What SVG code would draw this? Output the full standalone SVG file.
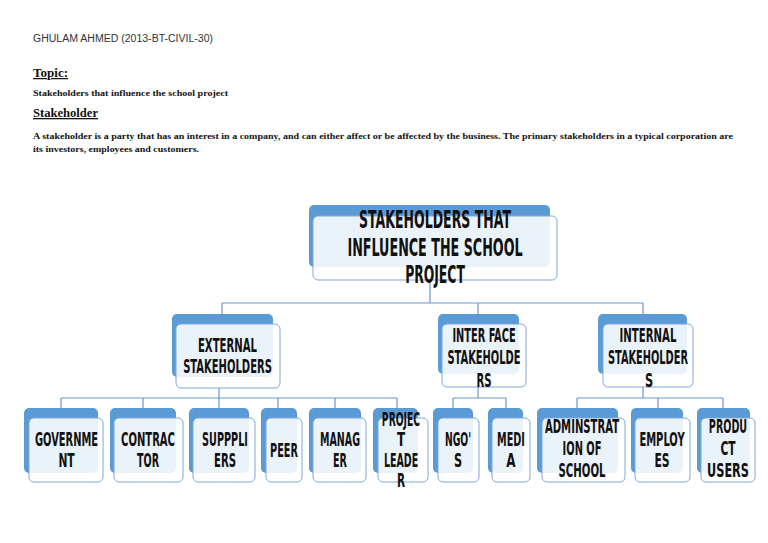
<svg xmlns="http://www.w3.org/2000/svg" width="768" height="543" viewBox="0 0 768 543">
<style>
.back{fill:#5b9bd5}
.front{fill:#ffffff;fill-opacity:0.88;stroke:#7ea8d8;stroke-width:1}
.lbl{font-family:"DejaVu Sans Condensed","DejaVu Sans",sans-serif;font-weight:bold;fill:#111;text-anchor:middle}
.root{font-size:24px}
.mid{font-size:19px}
.leaf{font-size:19px}
.conn{stroke:#6b98cc;fill:none;stroke-width:1.2}
.serif{font-family:"Liberation Serif",serif;font-weight:bold;fill:#111}
</style>
<rect width="768" height="543" fill="#ffffff"/>
<g id="header">
<text x="33" y="42" font-family="'Liberation Sans',sans-serif" font-size="10" fill="#333" textLength="180" lengthAdjust="spacingAndGlyphs">GHULAM AHMED (2013-BT-CIVIL-30)</text>
<text class="serif" x="33" y="77" font-size="12.5" text-decoration="underline" textLength="35" lengthAdjust="spacingAndGlyphs">Topic:</text>
<text class="serif" x="33" y="95.5" font-size="8.5" textLength="195" lengthAdjust="spacingAndGlyphs">Stakeholders that influence the school project</text>
<text class="serif" x="33" y="117" font-size="13" text-decoration="underline" textLength="65" lengthAdjust="spacingAndGlyphs">Stakeholder</text>
<text class="serif" x="33" y="139" font-size="8.5" textLength="700" lengthAdjust="spacingAndGlyphs">A stakeholder is a party that has an interest in a company, and can either affect or be affected by the business.  The primary stakeholders in a typical corporation are</text>
<text class="serif" x="33" y="151.5" font-size="8.5" textLength="166" lengthAdjust="spacingAndGlyphs">its investors, employees and customers.</text>
</g>
<g id="connectors">
<path class="conn" d="M430 280V303 M222 303H643 M222 303V314 M478 303V314 M643 303V314 M219 388V398 M61 398H397 M61 398V408 M143 398V408 M219 398V408 M278 398V408 M335 398V408 M397 398V408 M478 387V398 M453 398H506 M453 398V408 M506 398V408 M643 387V398 M577 398H723 M577 398V408 M658 398V408 M723 398V408"/>
</g>
<g id="root">
<rect class="back" x="309" y="205" width="241" height="62" rx="5"/>
<rect class="front" x="313" y="216" width="244" height="64" rx="5"/>
<text class="lbl root" transform="matrix(0.58 0 0 1 435 0)" x="0" y="228" textLength="262" lengthAdjust="spacingAndGlyphs">STAKEHOLDERS THAT</text>
<text class="lbl root" transform="matrix(0.58 0 0 1 435 0)" x="0" y="256" textLength="302" lengthAdjust="spacingAndGlyphs">INFLUENCE THE SCHOOL</text>
<text class="lbl root" transform="matrix(0.58 0 0 1 435 0)" x="0" y="283" textLength="103" lengthAdjust="spacingAndGlyphs">PROJECT</text>
</g>
<g id="external">
<rect class="back" x="172" y="314" width="101" height="63" rx="5"/>
<rect class="front" x="176" y="324" width="104" height="64" rx="5"/>
<text class="lbl mid" transform="matrix(0.58 0 0 1 227.5 0)" x="0" y="352" textLength="102" lengthAdjust="spacingAndGlyphs">EXTERNAL</text>
<text class="lbl mid" transform="matrix(0.58 0 0 1 227.5 0)" x="0" y="373" textLength="153" lengthAdjust="spacingAndGlyphs">STAKEHOLDERS</text>
</g>
<g id="interface">
<rect class="back" x="438" y="314" width="81" height="60" rx="5"/>
<rect class="front" x="442" y="324" width="84" height="63" rx="5"/>
<text class="lbl mid" transform="matrix(0.58 0 0 1 484 0)" x="0" y="342" textLength="109" lengthAdjust="spacingAndGlyphs">INTER FACE</text>
<text class="lbl mid" transform="matrix(0.58 0 0 1 484 0)" x="0" y="364" textLength="126" lengthAdjust="spacingAndGlyphs">STAKEHOLDE</text>
<text class="lbl mid" transform="matrix(0.58 0 0 1 484 0)" x="0" y="387" textLength="26" lengthAdjust="spacingAndGlyphs">RS</text>
</g>
<g id="internal">
<rect class="back" x="598" y="314" width="89" height="60" rx="5"/>
<rect class="front" x="603" y="324" width="90" height="63" rx="5"/>
<text class="lbl mid" transform="matrix(0.58 0 0 1 648 0)" x="0" y="342" textLength="98" lengthAdjust="spacingAndGlyphs">INTERNAL</text>
<text class="lbl mid" transform="matrix(0.58 0 0 1 648 0)" x="0" y="364" textLength="138" lengthAdjust="spacingAndGlyphs">STAKEHOLDER</text>
<text class="lbl mid" transform="matrix(0.58 0 0 1 649 0)" x="0" y="387" textLength="14" lengthAdjust="spacingAndGlyphs">S</text>
</g>
<g id="government">
<rect class="back" x="24" y="408" width="74" height="65" rx="5"/>
<rect class="front" x="29" y="418" width="74" height="64" rx="5"/>
<text class="lbl leaf" transform="matrix(0.58 0 0 1 66.5 0)" x="0" y="446" textLength="109" lengthAdjust="spacingAndGlyphs">GOVERNME</text>
<text class="lbl leaf" transform="matrix(0.58 0 0 1 66.5 0)" x="0" y="467" textLength="28" lengthAdjust="spacingAndGlyphs">NT</text>
</g>
<g id="contractor">
<rect class="back" x="110" y="408" width="66" height="65" rx="5"/>
<rect class="front" x="114" y="418" width="69" height="64" rx="5"/>
<text class="lbl leaf" transform="matrix(0.58 0 0 1 148 0)" x="0" y="446" textLength="93" lengthAdjust="spacingAndGlyphs">CONTRAC</text>
<text class="lbl leaf" transform="matrix(0.58 0 0 1 148 0)" x="0" y="467" textLength="38" lengthAdjust="spacingAndGlyphs">TOR</text>
</g>
<g id="suppliers">
<rect class="back" x="189" y="408" width="60" height="65" rx="5"/>
<rect class="front" x="193" y="418" width="62" height="64" rx="5"/>
<text class="lbl leaf" transform="matrix(0.58 0 0 1 225 0)" x="0" y="446" textLength="79" lengthAdjust="spacingAndGlyphs">SUPPPLI</text>
<text class="lbl leaf" transform="matrix(0.58 0 0 1 225 0)" x="0" y="467" textLength="38" lengthAdjust="spacingAndGlyphs">ERS</text>
</g>
<g id="peer">
<rect class="back" x="261" y="408" width="36" height="65" rx="5"/>
<rect class="front" x="266" y="418" width="36" height="64" rx="5"/>
<text class="lbl leaf" transform="matrix(0.58 0 0 1 284 0)" x="0" y="457" textLength="48" lengthAdjust="spacingAndGlyphs">PEER</text>
</g>
<g id="manager">
<rect class="back" x="309" y="408" width="52" height="65" rx="5"/>
<rect class="front" x="313" y="418" width="53" height="64" rx="5"/>
<text class="lbl leaf" transform="matrix(0.58 0 0 1 340 0)" x="0" y="446" textLength="69" lengthAdjust="spacingAndGlyphs">MANAG</text>
<text class="lbl leaf" transform="matrix(0.58 0 0 1 340 0)" x="0" y="467" textLength="24" lengthAdjust="spacingAndGlyphs">ER</text>
</g>
<g id="project-leader">
<rect class="back" x="373" y="408" width="45" height="65" rx="5"/>
<rect class="front" x="378" y="418" width="50" height="64" rx="5"/>
<text class="lbl leaf" transform="matrix(0.58 0 0 1 401 0)" x="0" y="426" textLength="66" lengthAdjust="spacingAndGlyphs">PROJEC</text>
<text class="lbl leaf" transform="matrix(0.58 0 0 1 401 0)" x="0" y="446" textLength="14" lengthAdjust="spacingAndGlyphs">T</text>
<text class="lbl leaf" transform="matrix(0.58 0 0 1 401 0)" x="0" y="467" textLength="59" lengthAdjust="spacingAndGlyphs">LEADE</text>
<text class="lbl leaf" transform="matrix(0.58 0 0 1 401 0)" x="0" y="487" textLength="14" lengthAdjust="spacingAndGlyphs">R</text>
</g>
<g id="ngos">
<rect class="back" x="433" y="408" width="40" height="65" rx="5"/>
<rect class="front" x="438" y="418" width="41" height="64" rx="5"/>
<text class="lbl leaf" transform="matrix(0.58 0 0 1 458 0)" x="0" y="446" textLength="45" lengthAdjust="spacingAndGlyphs">NGO'</text>
<text class="lbl leaf" transform="matrix(0.58 0 0 1 458 0)" x="0" y="467" textLength="14" lengthAdjust="spacingAndGlyphs">S</text>
</g>
<g id="media">
<rect class="back" x="488" y="408" width="35" height="65" rx="5"/>
<rect class="front" x="492" y="418" width="38" height="64" rx="5"/>
<text class="lbl leaf" transform="matrix(0.58 0 0 1 511 0)" x="0" y="446" textLength="48" lengthAdjust="spacingAndGlyphs">MEDI</text>
<text class="lbl leaf" transform="matrix(0.58 0 0 1 511 0)" x="0" y="467" textLength="16" lengthAdjust="spacingAndGlyphs">A</text>
</g>
<g id="administration">
<rect class="back" x="537" y="408" width="81" height="65" rx="5"/>
<rect class="front" x="542" y="418" width="83" height="64" rx="5"/>
<text class="lbl leaf" transform="matrix(0.58 0 0 1 582 0)" x="0" y="433" textLength="128" lengthAdjust="spacingAndGlyphs">ADMINSTRAT</text>
<text class="lbl leaf" transform="matrix(0.58 0 0 1 582 0)" x="0" y="455" textLength="67" lengthAdjust="spacingAndGlyphs">ION OF</text>
<text class="lbl leaf" transform="matrix(0.58 0 0 1 582 0)" x="0" y="477" textLength="81" lengthAdjust="spacingAndGlyphs">SCHOOL</text>
</g>
<g id="employes">
<rect class="back" x="631" y="408" width="52" height="65" rx="5"/>
<rect class="front" x="635" y="418" width="55" height="64" rx="5"/>
<text class="lbl leaf" transform="matrix(0.58 0 0 1 662 0)" x="0" y="446" textLength="78" lengthAdjust="spacingAndGlyphs">EMPLOY</text>
<text class="lbl leaf" transform="matrix(0.58 0 0 1 662 0)" x="0" y="467" textLength="26" lengthAdjust="spacingAndGlyphs">ES</text>
</g>
<g id="product-users">
<rect class="back" x="697" y="408" width="53" height="65" rx="5"/>
<rect class="front" x="701" y="418" width="54" height="64" rx="5"/>
<text class="lbl leaf" transform="matrix(0.58 0 0 1 728 0)" x="0" y="433" textLength="66" lengthAdjust="spacingAndGlyphs">PRODU</text>
<text class="lbl leaf" transform="matrix(0.58 0 0 1 728 0)" x="0" y="455" textLength="26" lengthAdjust="spacingAndGlyphs">CT</text>
<text class="lbl leaf" transform="matrix(0.58 0 0 1 728 0)" x="0" y="477" textLength="72" lengthAdjust="spacingAndGlyphs">USERS</text>
</g>
</svg>
